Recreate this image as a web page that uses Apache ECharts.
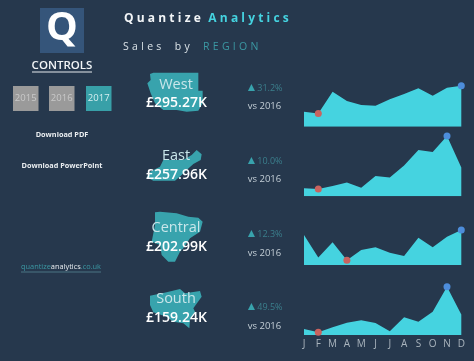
<!DOCTYPE html>
<html><head><meta charset="utf-8">
<style>
html,body{margin:0;padding:0;background:#26384d;overflow:hidden}
#c{position:absolute;left:0;top:0;width:474px;height:361px}
.h{position:absolute;white-space:nowrap;font-family:"Open Sans",sans-serif;line-height:16px}
</style>
<script src="https://cdn.jsdelivr.net/npm/echarts@6/dist/echarts.min.js"></script>
</head><body>
<div id="c"></div>
<div class="h" style="left:124px;top:10px;font-size:12px;font-weight:700;letter-spacing:3.2px;color:#f2f5f7">Quantize <span style="color:#45d3e0;margin-left:-2px">Analytics</span></div>
<div class="h" style="left:123px;top:38px;font-size:10.5px;letter-spacing:3.3px;color:#dbe3e8;word-spacing:4px">Sales by <span style="color:#3b98a3">REGION</span></div>
<script>
const months = ['J','F','M','A','M','J','J','A','S','O','N','D'];
const regions = ['West','East','Central','South'];
const totals = ['£295.27K','£257.96K','£202.99K','£159.24K'];
const changes = ['31.2%','10.0%','12.3%','49.5%'];
const west = [13.0,11.5,30.3,22.2,18.8,18.2,23.7,28.3,33.2,26.8,33.8,35.5];
const east = [6.9,6.4,9.0,11.9,7.5,17.6,16.2,26.6,40.2,38.5,52.3,24.9];
const central = [26.8,6.6,20.3,4.2,13.4,15.8,11.0,8.0,24.4,15.8,25.3,31.3];
const south = [5.2,2.3,6.7,10.8,12.8,10.5,3.2,15.4,11.6,20.4,42.2,18.0];
const years = ['2015','2016','2017'];

const seriesData = [west,east,central,south];
const axisMax = [60.6,60.7,62.6,61.1];
const bottoms = [126.7,196.3,265,335];
const wordY = [85,156,228,299];
const totalY = [103,175,247,318];
const pctY = [88,161,234,307];
const vsY = [106,179,253,326];

// decorative region silhouettes, in a 3x reference space
const shapes = [
 {o:[130,60],p:[[60,42],[70,38],[205,38],[205,92],[218,92],[218,130],[205,152],[170,155],[140,150],[100,150],[75,130],[62,100],[52,70],[62,60]]},
 {o:[130,60],p:[[185,285],[200,270],[215,283],[212,300],[190,312],[170,330],[155,345],[135,362],[100,362],[70,362],[50,352],[60,335],[90,320],[100,300],[130,300],[160,300]]},
 {o:[130,205],p:[[75,22],[90,20],[140,25],[175,35],[205,38],[218,50],[210,80],[180,100],[160,130],[150,140],[135,170],[115,170],[95,150],[90,120],[65,110],[75,60]]},
 {o:[130,205],p:[[60,272],[110,262],[150,252],[165,265],[210,258],[215,275],[190,310],[195,320],[180,345],[178,370],[160,355],[130,350],[110,335],[70,322],[60,300]]}
];

const FONT = '"Open Sans",sans-serif';
const txt = (x,y,text,size,fill,weight,align,z) => ({type:'text',x,y,z:z||5,style:{text,font:(weight||400)+' '+size+'px '+FONT,fill,align:align||'center',verticalAlign:'middle'}});
const graphic = [];
// logo
graphic.push({type:'rect',shape:{x:40,y:8,width:44,height:45},style:{fill:'#35557a'},z:1});
graphic.push({type:'text',x:62,y:29,z:2,style:{text:'Q',font:'700 40px '+FONT,fill:'#fff',align:'center',verticalAlign:'middle'}});
graphic.push(txt(62,66,'CONTROLS',11.5,'#f2f5f7',600));
graphic.push({type:'line',shape:{x1:32,y1:72,x2:92,y2:72},style:{stroke:'#e6eaee',lineWidth:1},z:2});
years.forEach((y,i)=>{
  const x=[13,49,86][i];
  graphic.push({type:'rect',shape:{x,y:86,width:25.5,height:25},style:{fill:i===2?'#38a0a8':'#9a9a9a'},z:1});
  graphic.push(txt(x+12.7,98.5,y,9.5,i===2?'#d5eef0':'#c9c9c9'));
});
graphic.push(txt(62,135,'Download PDF',7.3,'#e9edf0',700));
graphic.push(txt(62,166,'Download PowerPoint',7.3,'#e9edf0',700));
graphic.push({type:'text',x:61,y:267,z:5,style:{text:'{a|quantize}{b|analytics}{a|.co.uk}',align:'center',verticalAlign:'middle',
  rich:{a:{fill:'#3b98a3',font:'400 7.4px '+FONT},b:{fill:'#e6eaee',font:'400 7.4px '+FONT}}}});
graphic.push({type:'line',shape:{x1:21,y1:272,x2:101,y2:272},style:{stroke:'#5b8f9b',lineWidth:0.7},z:2});
regions.forEach((r,i)=>{
  const s=shapes[i];
  graphic.push({type:'polygon',z:1,shape:{points:s.p.map(q=>[q[0]/3+s.o[0],q[1]/3+s.o[1]])},style:{fill:'#38a3ad'}});
  graphic.push(txt(176,wordY[i],r,14.5,'#c9e6ea',400));
  graphic.push(txt(176.5,totalY[i],totals[i],14,'#ffffff',600));
  graphic.push({type:'text',x:264,y:pctY[i],z:5,style:{text:'{t|▲}{p|'+changes[i]+'}',align:'center',verticalAlign:'middle',
    rich:{t:{fill:'#38a3ad',font:'400 12px '+FONT},p:{fill:'#3b7f8c',font:'400 9px '+FONT}}}});
  graphic.push(txt(264.5,vsY[i],'vs 2016',9.5,'#c3ced6'));
});

const chart = echarts.init(document.getElementById('c'),null,{renderer:'canvas'});
const H=70;
chart.setOption({
  animation:false,
  backgroundColor:'#26384d',
  graphic:{elements:graphic},
  grid:bottoms.map(b=>({left:304,width:157.3,top:b-H,height:H})),
  xAxis:seriesData.map((d,i)=>({type:'category',gridIndex:i,data:months,boundaryGap:false,
    axisLine:{show:false},axisTick:{show:false},splitLine:{show:false},
    axisLabel:{show:i===3,color:'#a9b4bd',fontSize:10,fontFamily:FONT,margin:4,interval:0,showMinLabel:true,showMaxLabel:true}})),
  yAxis:seriesData.map((d,i)=>({type:'value',gridIndex:i,min:0,max:axisMax[i],show:false,splitLine:{show:false}})),
  series:seriesData.map((d,i)=>({type:'line',xAxisIndex:i,yAxisIndex:i,data:d,showSymbol:false,symbol:'none',
    lineStyle:{width:0,color:'#45d3e0'},areaStyle:{color:'#45d3e0',opacity:1},
    markPoint:{symbol:'circle',symbolSize:7,label:{show:false},silent:true,
      data:[{type:'min',itemStyle:{color:'#c9635f'}},{type:'max',itemStyle:{color:'#4d8ddb'}}]}}))
});
</script>
</body></html>
